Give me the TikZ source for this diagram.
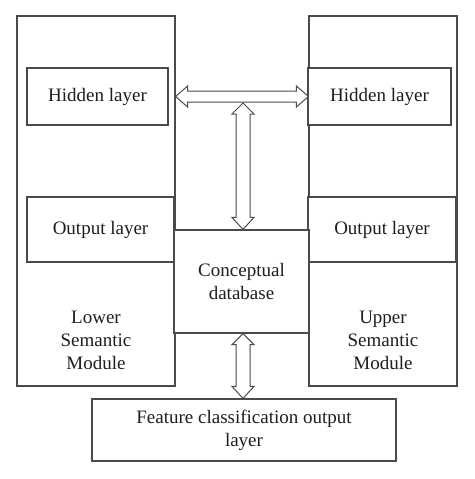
\documentclass[tikz,border=0pt]{standalone}
\usepackage{fontspec}
\setmainfont{Liberation Serif}
\usetikzlibrary{calc}
\definecolor{lc}{HTML}{4a4a4a}
\definecolor{tc}{HTML}{1e1e1e}
\tikzset{
  box/.style={draw=lc, line width=1.2pt, fill=white, inner sep=0pt},
  txt/.style={text=tc, align=center, font=\fontsize{19}{23}\selectfont},
  arr/.style={draw=lc, line width=1pt, fill=white, line join=miter},
}
% vertical hollow double arrow between top point #1 and bottom point #2
\newcommand{\vdarrow}[2]{%
  \path[arr] let \p1=(#1), \p2=(#2) in
   (\x1,\y1) -- ({\x1+11pt},{\y1-11pt}) -- ({\x1+7pt},{\y1-11pt})
   -- ({\x1+7pt},{\y2+12pt}) -- ({\x1+11pt},{\y2+12pt}) -- (\x1,\y2)
   -- ({\x1-11pt},{\y2+12pt}) -- ({\x1-7pt},{\y2+12pt})
   -- ({\x1-7pt},{\y1-11pt}) -- ({\x1-11pt},{\y1-11pt}) -- cycle;}
% horizontal hollow double arrow between left point #1 and right point #2
\newcommand{\hdarrow}[2]{%
  \path[arr] let \p1=(#1), \p2=(#2) in
   (\x1,\y1) -- ({\x1+12pt},{\y1+10.5pt}) -- ({\x1+12pt},{\y1+5.5pt})
   -- ({\x2-12pt},{\y1+5.5pt}) -- ({\x2-12pt},{\y1+10.5pt}) -- (\x2,\y1)
   -- ({\x2-12pt},{\y1-10.5pt}) -- ({\x2-12pt},{\y1-5.5pt})
   -- ({\x1+12pt},{\y1-5.5pt}) -- ({\x1+12pt},{\y1-10.5pt}) -- cycle;}
\begin{document}
\begin{tikzpicture}[x=1pt, y=-1pt]
\useasboundingbox (0,0) rectangle (474,479);
% outer modules
\node[box, minimum width=158pt, minimum height=370pt] (lower) at (96,201) {};
\node[box, minimum width=148pt, minimum height=370pt] (upper) at (383,201) {};
\node[txt] (lowertxt) at (96,340) {Lower\\Semantic\\Module};
\node[txt] (uppertxt) at (383,340) {Upper\\Semantic\\Module};
% layers
\node[box, txt, minimum width=141pt, minimum height=57pt] (hidL) at (97.5,96.5) {Hidden layer};
\node[box, txt, minimum width=143pt, minimum height=57pt] (hidR) at (379.5,96.5) {Hidden layer};
\node[box, txt, minimum width=147pt, minimum height=65pt] (outL) at (100.5,229.5) {Output layer};
\node[box, txt, minimum width=148pt, minimum height=65pt] (outR) at (382,229.5) {Output layer};
% conceptual database
\node[box, txt, minimum width=135pt, minimum height=103pt] (cdb) at (241.5,281.5) {Conceptual\\database};
% feature classification
\node[box, txt, minimum width=304pt, minimum height=62pt] (feat) at (244,430) {Feature classification output\\layer};
% arrows
\hdarrow{lower.east |- hidL.center}{upper.west |- hidL.center}
\coordinate (vtop) at (243,103);
\vdarrow{vtop}{cdb.north -| vtop}
\vdarrow{cdb.south -| vtop}{feat.north -| vtop}
\end{tikzpicture}
\end{document}
